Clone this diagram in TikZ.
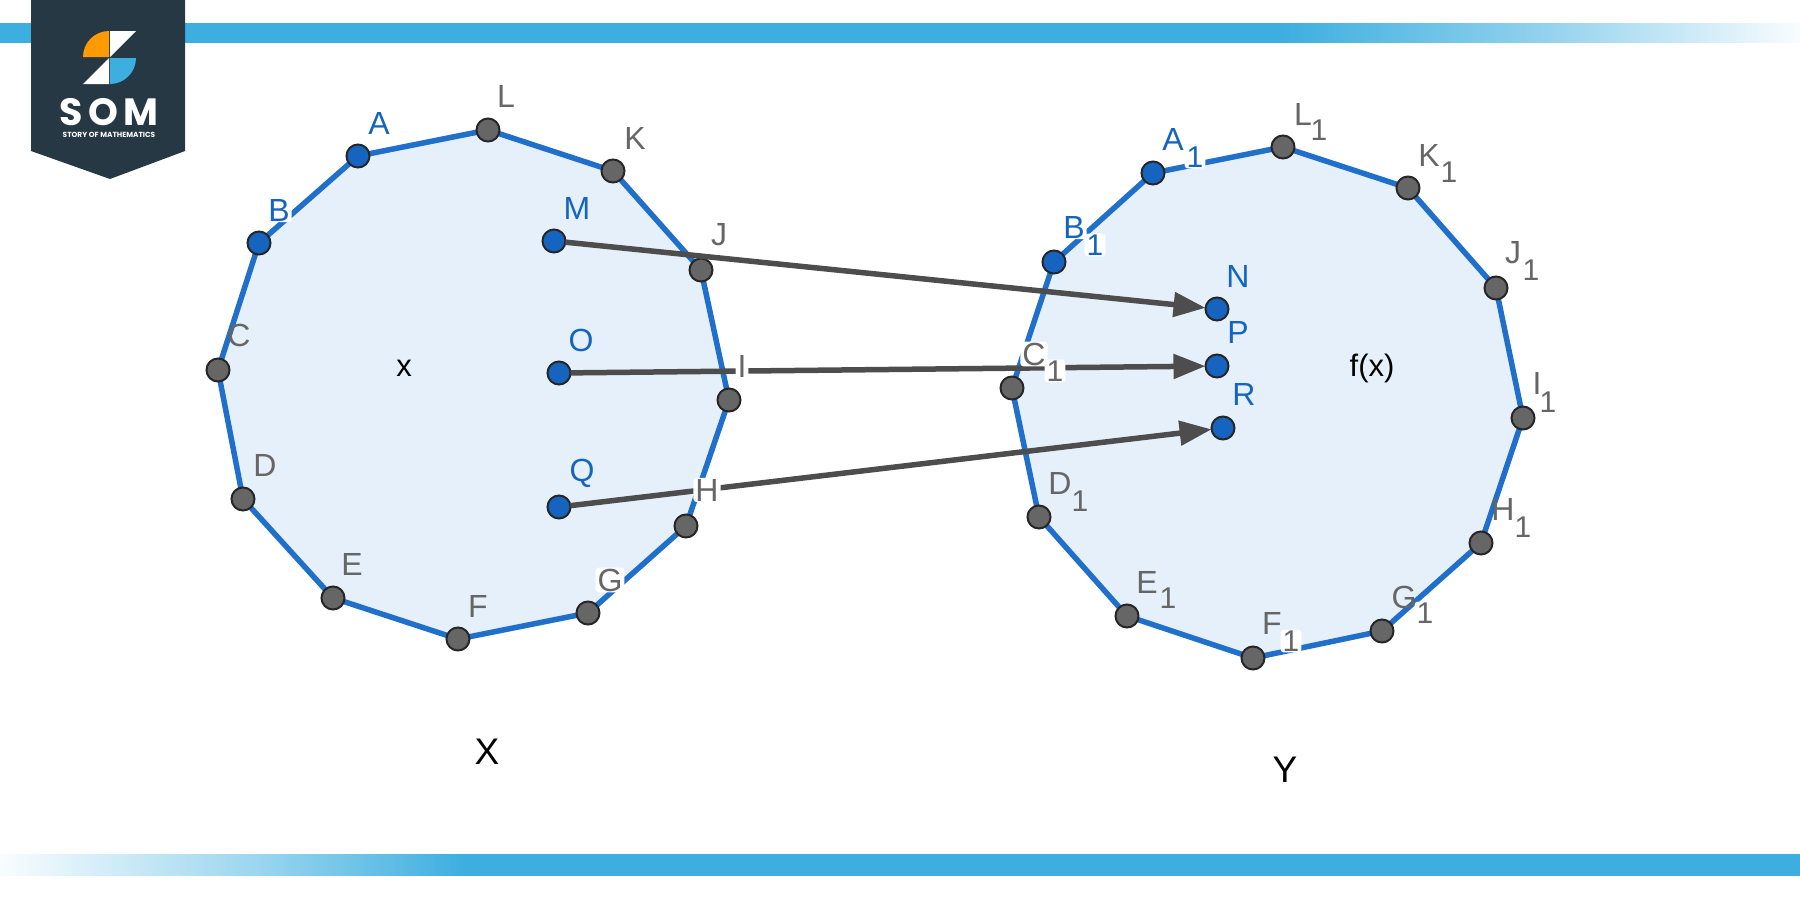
\documentclass[tikz,border=0pt]{standalone}
\usepackage{fontspec}
\setmainfont{Liberation Sans}
\newfontfamily\logofont{Poppins}
\usetikzlibrary{arrows.meta,backgrounds}
\definecolor{barblue}{HTML}{3CAEDF}
\definecolor{logodark}{HTML}{263843}
\definecolor{logoorange}{HTML}{FF9B00}
\definecolor{polyfill}{HTML}{E6F0FA}
\definecolor{polyline}{HTML}{1F6FCB}
\definecolor{ptblue}{HTML}{1565C0}
\definecolor{ptgray}{HTML}{666666}
\definecolor{arrowgray}{HTML}{4D4D4D}
\pgfdeclarehorizontalshading{topbarshade}{100bp}{color(0bp)=(barblue); color(60.5bp)=(barblue); color(68bp)=(barblue!55!white); color(75bp)=(barblue!3!white); color(100bp)=(barblue!3!white)}
\pgfdeclarehorizontalshading{botbarshade}{100bp}{color(0bp)=(barblue!3!white); color(25bp)=(barblue!3!white); color(32bp)=(barblue!50!white); color(38bp)=(barblue); color(100bp)=(barblue)}
\tikzset{
  x=1pt,y=-1pt,
  ptb/.style={circle,draw=black!85,line width=2pt,fill=ptblue,minimum size=23pt,inner sep=0pt},
  ptg/.style={circle,draw=black!85,line width=2pt,fill=ptgray,minimum size=23pt,inner sep=0pt},
  lab/.style={font=\fontsize{32}{34}\selectfont,inner sep=0pt,anchor=center},
  labg/.style={lab,text=ptgray},
  labb/.style={lab,text=ptblue},
  subg/.style={labg,font=\fontsize{30}{32}\selectfont},
  subb/.style={labb,font=\fontsize{30}{32}\selectfont},
  gap/.style={fill=white,rounded corners=3pt,inner xsep=2pt,inner ysep=1pt},
  plain/.style={font=\fontsize{31}{33}\selectfont,inner sep=0pt,text=black},
  big/.style={font=\fontsize{37}{39}\selectfont,inner sep=0pt,text=black},
  poly/.style={draw=polyline,fill=polyfill,line width=5.5pt,line join=round},
  arr/.style={draw=arrowgray,line width=5.5pt,-{Triangle[length=32pt,width=24pt]},shorten <=-1pt,shorten >=-1pt},
}
\begin{document}
\begin{tikzpicture}
\useasboundingbox (0,0) rectangle (1800,900);
% bars
\shade[shading=topbarshade] (0,23) rectangle (1800,42);
\shade[shading=botbarshade] (0,854) rectangle (1800,875);
% logo
\fill[logodark] (31,0) -- (185,0) -- (185,151) -- (110,179) -- (31,151) -- cycle;
\fill[logoorange] (109,31) arc (270:180:26) -- (109,57) -- cycle;
\fill[white] (110,31) -- (136,31) -- (110,57) -- cycle;
\fill[white] (83,84) -- (109,58) -- (109,84) -- cycle;
\fill[barblue] (136,58) arc (0:90:26) -- (110,58) -- cycle;
\node[font=\logofont\bfseries\fontsize{38}{40}\selectfont,text=white,inner sep=0pt] (som) at (109,112) {S\kern5pt O\kern5pt M};
\node[font=\logofont\bfseries\fontsize{7.4}{9}\selectfont,text=white,inner sep=0pt] (somsub) at (109,135) {STORY OF MATHEMATICS};
% left points
\node[ptb] (A) at (358,156) {};
\node[ptg] (L) at (488,130) {};
\node[ptg] (K) at (613,171) {};
\node[ptg] (J) at (701,270) {};
\node[ptg] (I) at (729,400) {};
\node[ptg] (H) at (686,526) {};
\node[ptg] (G) at (588,613) {};
\node[ptg] (F) at (458,639) {};
\node[ptg] (E) at (333,598) {};
\node[ptg] (D) at (243,499) {};
\node[ptg] (C) at (218,370) {};
\node[ptb] (B) at (259,243) {};
% right points
\node[ptb] (A1) at (1153,173) {};
\node[ptg] (L1) at (1283,147) {};
\node[ptg] (K1) at (1408,188) {};
\node[ptg] (J1) at (1496,288) {};
\node[ptg] (I1) at (1523,418) {};
\node[ptg] (H1) at (1481,543) {};
\node[ptg] (G1) at (1382,631) {};
\node[ptg] (F1) at (1253,658) {};
\node[ptg] (E1) at (1127,616) {};
\node[ptg] (D1) at (1039,517) {};
\node[ptg] (C1) at (1012,388) {};
\node[ptb] (B1) at (1054,262) {};
% inner points
\node[ptb] (M) at (554,241) {};
\node[ptb] (O) at (559,373) {};
\node[ptb] (Q) at (559,507) {};
\node[ptb] (N) at (1217,309) {};
\node[ptb] (P) at (1217,366) {};
\node[ptb] (R) at (1223,428) {};
\begin{scope}[on background layer]
\path[poly] (A.center) -- (L.center) -- (K.center) -- (J.center) -- (I.center) -- (H.center) -- (G.center) -- (F.center) -- (E.center) -- (D.center) -- (C.center) -- (B.center) -- cycle;
\path[poly] (A1.center) -- (L1.center) -- (K1.center) -- (J1.center) -- (I1.center) -- (H1.center) -- (G1.center) -- (F1.center) -- (E1.center) -- (D1.center) -- (C1.center) -- (B1.center) -- cycle;
\end{scope}
% arrows
\draw[arr] (M) -- (N);
\draw[arr] (O) -- (P);
\draw[arr] (Q) -- (R);
% left labels
\node[labb] (tA) at (379,123) {A};
\node[labg] (tL) at (506,96) {L};
\node[labg] (tK) at (635,138) {K};
\node[labg] (tJ) at (719,235) {J};
\node[labg,gap] (tI) at (742,366) {I};
\node[labg,gap] (tH) at (707,490) {H};
\node[labg,gap] (tG) at (610,580) {G};
\node[labg] (tF) at (478,606) {F};
\node[labg] (tE) at (352,564) {E};
\node[labg] (tD) at (265,465) {D};
\node[labg] (tC) at (239,335) {C};
\node[labb,gap] (tB) at (279,210) {B};
\node[labb] (tM) at (577,208) {M};
\node[labb] (tO) at (581,340) {O};
\node[labb] (tQ) at (582,473) {Q};
% right labels
\node[labb] (tA1) at (1173,139) {A};
\node[subb,gap] (sA1) at (1195,157) {1};
\node[labg] (tL1) at (1303,114) {L};
\node[subg] (sL1) at (1319,130) {1};
\node[labg] (tK1) at (1429,155) {K};
\node[subg] (sK1) at (1449,172) {1};
\node[labg] (tJ1) at (1513,253) {J};
\node[subg] (sJ1) at (1531,270) {1};
\node[labg] (tI1) at (1537,383) {I};
\node[subg] (sI1) at (1548,402) {1};
\node[labg] (tH1) at (1503,509) {H};
\node[subg] (sH1) at (1523,527) {1};
\node[subg,gap] (sG1) at (1425,613) {1};
\node[labg] (tG1) at (1404,597) {G};
\node[labg] (tF1) at (1272,623) {F};
\node[subg,gap] (sF1) at (1291,641) {1};
\node[labg] (tE1) at (1147,582) {E};
\node[subg] (sE1) at (1168,598) {1};
\node[labg] (tD1) at (1060,483) {D};
\node[subg] (sD1) at (1080,501) {1};
\node[subg,gap] (sC1) at (1055,371) {1};
\node[labg,gap] (tC1) at (1034,354) {C};
\node[subb,gap] (sB1) at (1095,245) {1};
\node[labb,gap] (tB1) at (1074,227) {B};
\node[labb] (tN) at (1238,276) {N};
\node[labb] (tP) at (1238,332) {P};
\node[labb] (tR) at (1244,394) {R};
% plain labels
\node[plain] (tx) at (404,368) {x};
\node[plain] (tfx) at (1372,368) {f(x)};
\node[big] (tX) at (487,752) {X};
\node[big] (tY) at (1285,770) {Y};
\end{tikzpicture}
\end{document}
